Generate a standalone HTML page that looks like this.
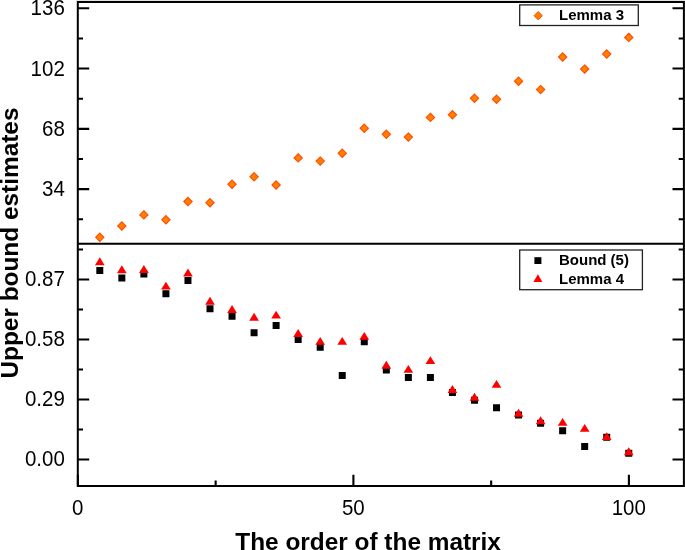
<!DOCTYPE html>
<html><head><meta charset="utf-8"><title>Upper bound estimates</title>
<style>html,body{margin:0;padding:0;background:#fff;width:685px;height:550px;overflow:hidden}svg{display:block}</style>
</head><body>
<svg width="685" height="550" viewBox="0 0 685 550"><rect x="76.2" y="0" width="608.8" height="1" fill="#e2e2e2"/>
<path d="M76.8 1.9H684.9M77.8 243.8H683.9M76.8 486.1H684.9M77.8 1.9V486.1M683.9 1.9V486.1" stroke="#000" stroke-width="2.0" fill="none"/>
<path d="M77.8 8.3h11.4M683.9 8.3h-11.4M77.8 38.43h5.2M683.9 38.43h-5.2M77.8 68.57h11.4M683.9 68.57h-11.4M77.8 98.7h5.2M683.9 98.7h-5.2M77.8 128.83h11.4M683.9 128.83h-11.4M77.8 158.97h5.2M683.9 158.97h-5.2M77.8 189.1h11.4M683.9 189.1h-11.4M77.8 219.23h5.2M683.9 219.23h-5.2M77.8 249.43h5.2M683.9 249.43h-5.2M77.8 279.45h11.4M683.9 279.45h-11.4M77.8 309.47h5.2M683.9 309.47h-5.2M77.8 339.49h11.4M683.9 339.49h-11.4M77.8 369.51h5.2M683.9 369.51h-5.2M77.8 399.53h11.4M683.9 399.53h-11.4M77.8 429.55h5.2M683.9 429.55h-5.2M77.8 459.57h11.4M683.9 459.57h-11.4M77.9 486.1v-11.4M215.65 486.1v-5.6M353.4 486.1v-11.4M491.15 486.1v-5.6M628.9 486.1v-11.4" stroke="#000" stroke-width="2.1" fill="none"/>
<g font-family="'Liberation Sans', Arial, sans-serif" font-size="20.5" fill="#000"><text transform="translate(64.8 15.3) scale(1 1.1)" text-anchor="end">136</text><text transform="translate(64.8 75.57) scale(1 1.1)" text-anchor="end">102</text><text transform="translate(64.8 135.83) scale(1 1.1)" text-anchor="end">68</text><text transform="translate(64.8 196.1) scale(1 1.1)" text-anchor="end">34</text><text transform="translate(64.8 285.85) scale(1 1.1)" text-anchor="end">0.87</text><text transform="translate(64.8 345.89) scale(1 1.1)" text-anchor="end">0.58</text><text transform="translate(64.8 405.93) scale(1 1.1)" text-anchor="end">0.29</text><text transform="translate(64.8 465.97) scale(1 1.1)" text-anchor="end">0.00</text><text transform="translate(77.8 515.2) scale(1 1.1)" text-anchor="middle">0</text><text transform="translate(353.3 515.2) scale(1 1.1)" text-anchor="middle">50</text><text transform="translate(628.8 515.2) scale(1 1.1)" text-anchor="middle">100</text></g>
<text x="235.3" y="549.8" font-family="'Liberation Sans', Arial, sans-serif" font-size="24.4" font-weight="bold">The order of the matrix</text>
<text transform="translate(17.7 378.6) rotate(-90)" font-family="'Liberation Sans', Arial, sans-serif" font-size="24.4" font-weight="bold">Upper bound estimates</text>
<path d="M99.8 233.15l4.15 4.15l-4.15 4.15l-4.15 -4.15zM121.84 221.85l4.15 4.15l-4.15 4.15l-4.15 -4.15zM143.88 210.75l4.15 4.15l-4.15 4.15l-4.15 -4.15zM165.92 215.65l4.15 4.15l-4.15 4.15l-4.15 -4.15zM187.96 197.35l4.15 4.15l-4.15 4.15l-4.15 -4.15zM210 198.55l4.15 4.15l-4.15 4.15l-4.15 -4.15zM232.04 180.15l4.15 4.15l-4.15 4.15l-4.15 -4.15zM254.08 172.65l4.15 4.15l-4.15 4.15l-4.15 -4.15zM276.12 180.85l4.15 4.15l-4.15 4.15l-4.15 -4.15zM298.16 153.75l4.15 4.15l-4.15 4.15l-4.15 -4.15zM320.2 156.95l4.15 4.15l-4.15 4.15l-4.15 -4.15zM342.24 149.05l4.15 4.15l-4.15 4.15l-4.15 -4.15zM364.28 124.05l4.15 4.15l-4.15 4.15l-4.15 -4.15zM386.32 130.15l4.15 4.15l-4.15 4.15l-4.15 -4.15zM408.36 132.95l4.15 4.15l-4.15 4.15l-4.15 -4.15zM430.4 113.25l4.15 4.15l-4.15 4.15l-4.15 -4.15zM452.44 110.65l4.15 4.15l-4.15 4.15l-4.15 -4.15zM474.48 94.15l4.15 4.15l-4.15 4.15l-4.15 -4.15zM496.52 95.15l4.15 4.15l-4.15 4.15l-4.15 -4.15zM518.56 77.05l4.15 4.15l-4.15 4.15l-4.15 -4.15zM540.6 85.45l4.15 4.15l-4.15 4.15l-4.15 -4.15zM562.64 52.85l4.15 4.15l-4.15 4.15l-4.15 -4.15zM584.68 64.95l4.15 4.15l-4.15 4.15l-4.15 -4.15zM606.72 49.85l4.15 4.15l-4.15 4.15l-4.15 -4.15zM628.76 33.25l4.15 4.15l-4.15 4.15l-4.15 -4.15z" fill="#ff8000" stroke="#ff4c00" stroke-width="1.1"/>
<path d="M96.3 267h7.0v7.0h-7.0zM118.34 274.5h7.0v7.0h-7.0zM140.38 270.5h7.0v7.0h-7.0zM162.42 290.3h7.0v7.0h-7.0zM184.46 276.9h7.0v7.0h-7.0zM206.5 305.2h7.0v7.0h-7.0zM228.54 312.8h7.0v7.0h-7.0zM250.58 329.2h7.0v7.0h-7.0zM272.62 321.9h7.0v7.0h-7.0zM294.66 335.9h7.0v7.0h-7.0zM316.7 343.8h7.0v7.0h-7.0zM338.74 371.9h7.0v7.0h-7.0zM360.78 338.3h7.0v7.0h-7.0zM382.82 366.5h7.0v7.0h-7.0zM404.86 373.9h7.0v7.0h-7.0zM426.9 373.9h7.0v7.0h-7.0zM448.94 388.9h7.0v7.0h-7.0zM470.98 396.8h7.0v7.0h-7.0zM493.02 404.3h7.0v7.0h-7.0zM515.06 411.6h7.0v7.0h-7.0zM537.1 419.7h7.0v7.0h-7.0zM559.14 427.2h7.0v7.0h-7.0zM581.18 443.1h7.0v7.0h-7.0zM603.22 433.8h7.0v7.0h-7.0zM625.26 449.8h7.0v7.0h-7.0z" fill="#000"/>
<path d="M99.8 257.35l4.85 7.9h-9.7zM121.84 265.35l4.85 7.9h-9.7zM143.88 265.05l4.85 7.9h-9.7zM165.92 281.65l4.85 7.9h-9.7zM187.96 268.55l4.85 7.9h-9.7zM210 296.85l4.85 7.9h-9.7zM232.04 305.05l4.85 7.9h-9.7zM254.08 312.85l4.85 7.9h-9.7zM276.12 310.65l4.85 7.9h-9.7zM298.16 329.05l4.85 7.9h-9.7zM320.2 336.95l4.85 7.9h-9.7zM342.24 336.95l4.85 7.9h-9.7zM364.28 331.95l4.85 7.9h-9.7zM386.32 360.85l4.85 7.9h-9.7zM408.36 364.95l4.85 7.9h-9.7zM430.4 356.15l4.85 7.9h-9.7zM452.44 385.05l4.85 7.9h-9.7zM474.48 392.85l4.85 7.9h-9.7zM496.52 379.95l4.85 7.9h-9.7zM518.56 408.75l4.85 7.9h-9.7zM540.6 416.35l4.85 7.9h-9.7zM562.64 417.95l4.85 7.9h-9.7zM584.68 423.95l4.85 7.9h-9.7zM606.72 432.15l4.85 7.9h-9.7zM628.76 447.25l4.85 7.9h-9.7z" fill="#ff0000"/>
<rect x="519.7" y="4.9" width="118.6" height="20.6" fill="#fff" stroke="#222" stroke-width="1.3"/>
<path d="M538.2 11.55l4.15 4.15l-4.15 4.15l-4.15 -4.15z" fill="#ff8000" stroke="#ff4c00" stroke-width="1"/>
<text transform="translate(559 20.2) scale(1 1.03)" font-family="'Liberation Sans', Arial, sans-serif" font-size="15" font-weight="bold">Lemma 3</text>
<rect x="519.7" y="250" width="122.7" height="39.7" fill="#fff" stroke="#222" stroke-width="1.3"/>
<rect x="534.4" y="257.2" width="7" height="6.8" fill="#000"/>
<path d="M537.9 274.2l4.5 7.9h-9z" fill="#ff0000"/>
<text transform="translate(559 265.4) scale(1 1.03)" font-family="'Liberation Sans', Arial, sans-serif" font-size="15" font-weight="bold">Bound (5)</text>
<text transform="translate(559 283.8) scale(1 1.03)" font-family="'Liberation Sans', Arial, sans-serif" font-size="15" font-weight="bold">Lemma 4</text></svg>
</body></html>
